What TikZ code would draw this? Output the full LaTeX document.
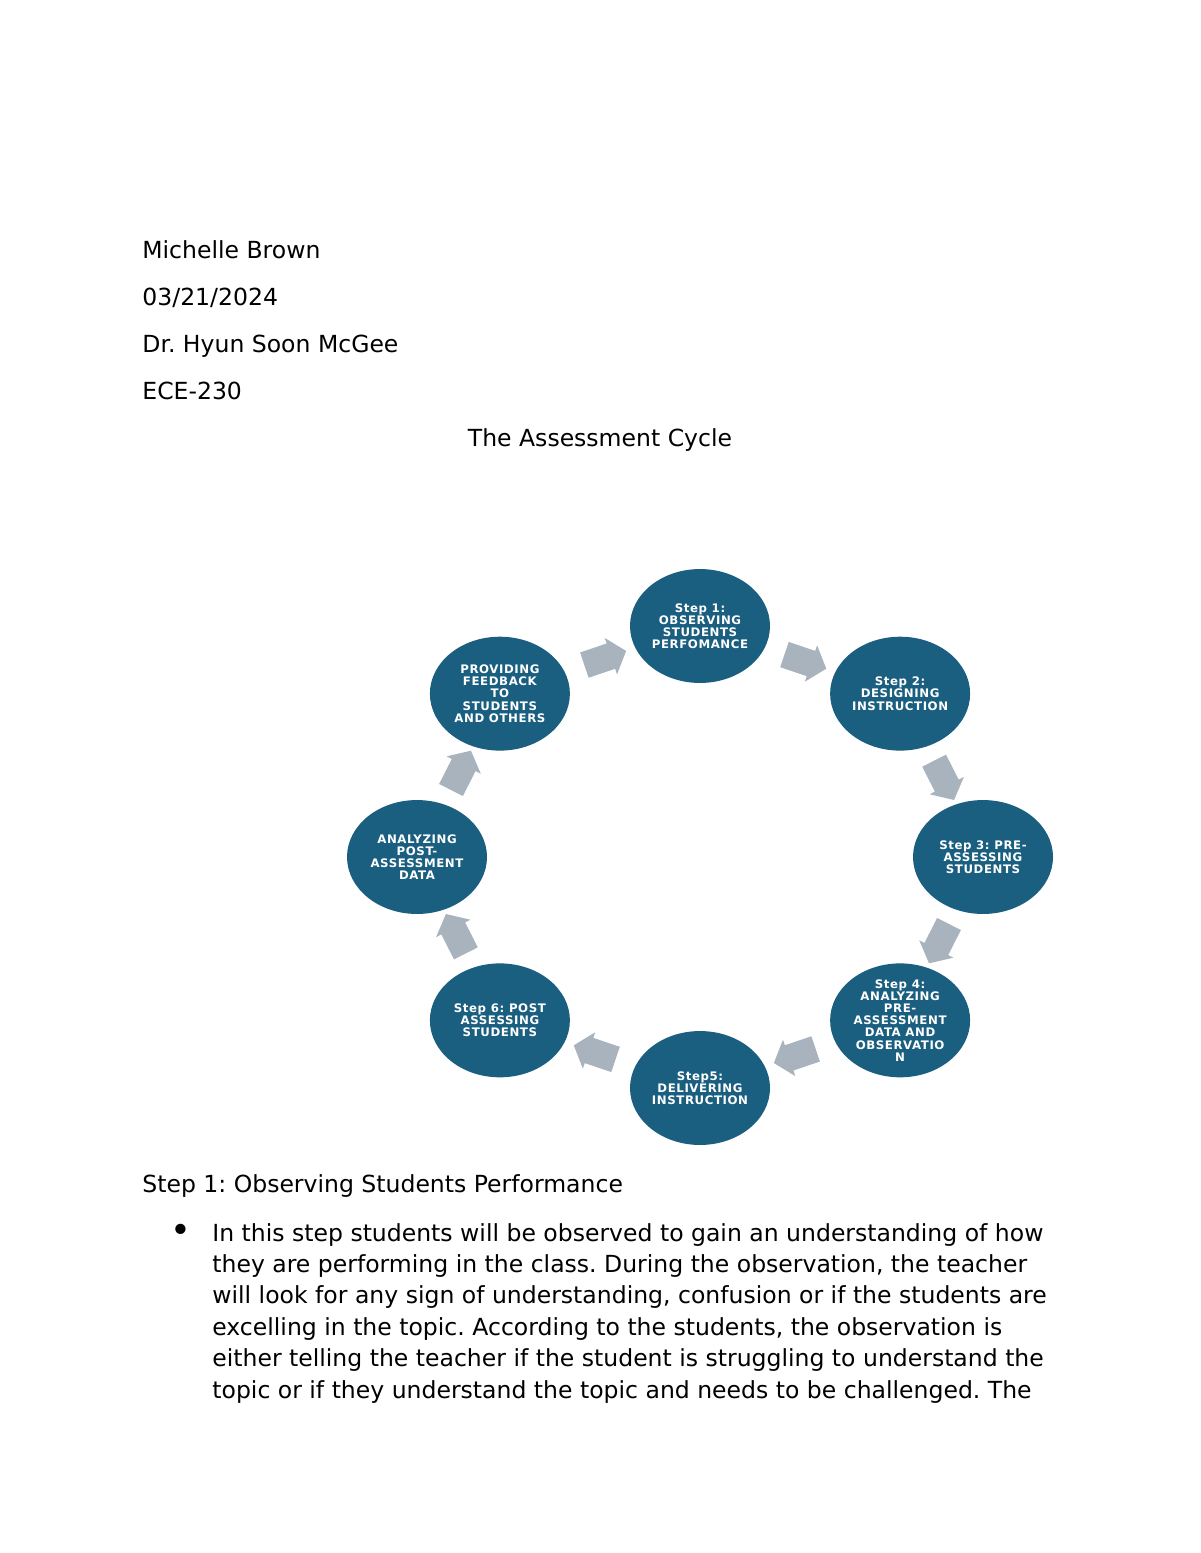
\documentclass[tikz,border=0pt]{standalone}
\usepackage{fontspec}
\setmainfont{DejaVu Sans}
\newfontfamily\cyclefont[LetterSpace=5]{DejaVu Sans Bold}
\usepackage{tikz}
\usetikzlibrary{calc,positioning,shapes.geometric,shapes.arrows}
\definecolor{cycleblue}{HTML}{1A5E80}
\definecolor{arrowgray}{HTML}{A9B3BE}
\frenchspacing

\begin{document}
\begin{tikzpicture}[x=0.51pt,y=-0.51pt,
    every node/.style={font=\fontsize{12}{14}\selectfont, inner sep=0pt},
    stage/.style={ellipse, fill=cycleblue, text=white, align=center,
      minimum width=71.4pt, minimum height=58.1pt,
      font=\cyclefont\fontsize{6}{6.2}\selectfont},
    cyclearrow/.style={single arrow, fill=arrowgray, minimum height=22.5pt,
      inner ysep=6.6pt, single arrow head extend=3pt, single arrow tip angle=100}]
  \useasboundingbox (0,0) rectangle (1200,1553);
  % header
  \node[anchor=base west] (author) at (142,258) {Michelle Brown};
  \node[anchor=base west] (date) at (142,305) {03/21/2024};
  \node[anchor=base west] (instructor) at (142,352) {Dr. Hyun Soon McGee};
  \node[anchor=base west] (course) at (142,399) {ECE-230};
  \node[anchor=base] (title) at (600,446) {The Assessment Cycle};
  % cycle
  \foreach \txt [count=\i from 0] in {{Step 1:\\OBSERVING\\STUDENTS\\PERFOMANCE},
      {Step 2:\\DESIGNING\\INSTRUCTION}, {Step 3: PRE-\\ASSESSING\\STUDENTS},
      {Step 4:\\ANALYZING\\PRE-\\ASSESSMENT\\DATA AND\\OBSERVATIO\\N},
      {Step5:\\DELIVERING\\INSTRUCTION}, {Step 6: POST\\ASSESSING\\STUDENTS},
      {ANALYZING\\POST-\\ASSESSMENT\\DATA},
      {PROVIDING\\FEEDBACK\\TO\\STUDENTS\\AND OTHERS}}
    \node[stage, inner ysep=-2pt] (s\i) at ({700+283*cos(90-45*\i)},{857-231*sin(90-45*\i)}) {\txt};
  \foreach \i [evaluate=\i as \j using {int(mod(\i+1,8))}] in {0,...,7}
    \path let \p1=($(s\j)-(s\i)$), \n1={atan2(\y1,\x1)} in
      ($(s\i)!0.5!(s\j)$) node[cyclearrow, rotate=\n1] (a\i) {};
  % body text
  \node[anchor=base west] (heading) at (142,1192) {Step 1: Observing Students Performance};
  \node[font=\fontsize{18}{18}\selectfont] (bullet) at (181,1233) {•};
  \foreach \ln [count=\k] in {{In this step students will be observed to gain an understanding of how},
      {they are performing in the class. During the observation, the teacher},
      {will look for any sign of understanding, confusion or if the students are},
      {excelling in the topic. According to the students, the observation is},
      {either telling the teacher if the student is struggling to understand the},
      {topic or if they understand the topic and needs to be challenged. The}}
    \node[anchor=base west] (body\k) at (212,{1241+31.4*(\k-1)}) {\ln};
\end{tikzpicture}
\end{document}
